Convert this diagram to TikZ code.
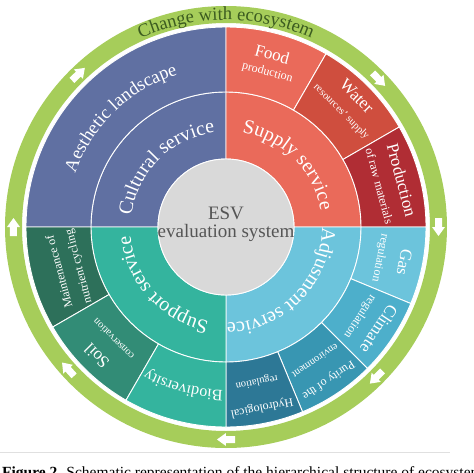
\documentclass[tikz,border=0pt]{standalone}
\usepackage{fontspec}
\setmainfont{Liberation Serif}
\usepackage{tikz}
\usetikzlibrary{
  decorations.text,
}
\definecolor{cultblue}{RGB}{96,112,162}
\definecolor{supplyred}{RGB}{234,106,90}
\definecolor{waterred}{RGB}{207,78,62}
\definecolor{prodred}{RGB}{176,45,52}
\definecolor{adjblue}{RGB}{108,196,220}
\definecolor{climblue}{RGB}{77,175,203}
\definecolor{purblue}{RGB}{56,150,178}
\definecolor{hydroblue}{RGB}{45,120,150}
\definecolor{suppteal}{RGB}{52,180,158}
\definecolor{soilteal}{RGB}{50,140,118}
\definecolor{maintgreen}{RGB}{45,112,90}
\definecolor{coregrey}{RGB}{217,217,217}
\definecolor{coretext}{RGB}{85,85,85}
\definecolor{ringgreen}{RGB}{166,205,90}
\definecolor{ringtext}{RGB}{60,92,32}
\newcommand{\fsmain}{\fontsize{20}{20}\selectfont}
\newcommand{\fscore}{\fontsize{19}{19}\selectfont}
\newcommand{\fsaes}{\fontsize{18.5}{18.5}\selectfont}
\newcommand{\fsbio}{\fontsize{16}{16}\selectfont}
\newcommand{\ringpiece}[5]{\filldraw[piece,fill=#1] (#4:#2) arc[start angle=#4,end angle=#5,radius=#2] -- (#5:#3) arc[start angle=#5,end angle=#4,radius=#3] -- cycle;}
\newcommand{\arclabel}[6]{\path[decorate,decoration={text along path,text align=center,text color=#5,text={|#4|#6}}] (#2:#1) arc[start angle=#2,end angle=#3,radius=#1];}
\newcommand{\ringarrow}[1]{\begin{scope}[shift={(#1:212.5)},rotate=#1-90]
    \fill[white] (-9,-3.5) -- (0,-3.5) -- (0,-6.5) -- (9,0) -- (0,6.5) -- (0,3.5) -- (-9,3.5) -- cycle;
  \end{scope}}
\tikzset{
  piece/.style={draw=white,line width=0.9pt},
  tag/.style={text=white,inner sep=0pt,font=\fontsize{12}{12}\selectfont},
  bigtag/.style={tag,font=\fontsize{17}{17}\selectfont},
  smalltag/.style={tag,font=\fontsize{10.5}{10.5}\selectfont},
}

\begin{document}
\begin{tikzpicture}[x=1pt,y=1pt]
	\useasboundingbox (-226,-245) rectangle (248,227);

	\fill[ringgreen,even odd rule] (0,0) circle (221) (0,0) circle (204);
	\foreach \a in {180,134,44,0,-45,-90,-138} {\ringarrow{\a}}
	\arclabel{207}{150}{30}{\fontsize{18.5}{18.5}\selectfont}{ringtext}{Change with ecosystem}

	\ringpiece{cultblue}{68}{135}{90}{180}
	\ringpiece{supplyred}{68}{135}{0}{90}
	\ringpiece{adjblue}{68}{135}{-90}{0}
	\ringpiece{suppteal}{68}{135}{-180}{-90}

	\ringpiece{cultblue}{135}{200}{90}{180}
	\ringpiece{supplyred}{135}{200}{60}{90}
	\ringpiece{waterred}{135}{200}{30}{60}
	\ringpiece{prodred}{135}{200}{0}{30}
	\ringpiece{adjblue}{135}{200}{-22.5}{0}
	\ringpiece{climblue}{135}{200}{-45}{-22.5}
	\ringpiece{purblue}{135}{200}{-67.5}{-45}
	\ringpiece{hydroblue}{135}{200}{-90}{-67.5}
	\ringpiece{maintgreen}{135}{200}{180}{210}
	\ringpiece{soilteal}{135}{200}{210}{240}
	\ringpiece{suppteal}{135}{200}{240}{270}

	\filldraw[piece,fill=coregrey] (0,0) circle (68);
	\node[text=coretext,font=\fscore,inner sep=0pt] (esv) at (0,14) {ESV};
	\node[text=coretext,font=\fscore,inner sep=0pt] (evalsys) at (0,-6) {evaluation system};

	\arclabel{95}{200}{70}{\fsmain}{white}{Cultural service}
	\arclabel{96}{110}{-20}{\fsmain}{white}{Supply service}
	\arclabel{96}{20}{-110}{\fsmain}{white}{Adjusment service}
	\arclabel{96}{-70}{-205}{\fsmain}{white}{Support service}
	\arclabel{160}{200}{68}{\fsaes}{white}{Aesthetic landscape}
	\arclabel{163}{-60}{-150}{\fsbio}{white}{Biodiversity}

	\node[bigtag,rotate=-15] (food) at (75:179) {Food};
	\node[tag,rotate=-15] (foodsub) at (75:160) {production};
	\node[bigtag,rotate=-45] (water) at (45:185) {Water};
	\node[smalltag,rotate=-45] (watersub) at (45:163) {resources' supply};
	\node[bigtag,rotate=-75] (prod) at (15:182) {Production};
	\node[tag,rotate=-75] (prodsub) at (15:159) {of raw materials};

	\node[bigtag,rotate=-101.25] (gas) at (-11.25:182) {Gas};
	\node[tag,rotate=-101.25] (gassub) at (-11.25:157) {regulation};
	\node[bigtag,rotate=-123.75] (climate) at (-33.75:184) {Climate};
	\node[tag,rotate=-123.75] (climatesub) at (-33.75:161) {regulation};
	\node[tag,rotate=-146.25] (purity) at (-56.25:184) {Purity of the};
	\node[smalltag,rotate=-146.25] (puritysub) at (-56.25:161) {environment};
	\node[tag,rotate=-168.75] (hydro) at (-78.75:184) {Hydrological};
	\node[smalltag,rotate=-168.75] (hydrosub) at (-78.75:158) {regulation};

	\node[tag,rotate=105] (maint) at (195:173) {Maintenance of};
	\node[tag,rotate=105] (maintsub) at (195:152) {nutrient cycling};
	\node[bigtag,rotate=135] (soil) at (-135:183) {Soil};
	\node[smalltag,rotate=135] (soilsub) at (-135:159) {conservation};

	\draw[black!12,line width=0.6pt] (-226,-225) -- (224,-225);
	\node[anchor=base west,inner sep=0pt,font=\fontsize{15.5}{15.5}\selectfont] (caption) at (-224,-250) {\textbf{Figure 2.} Schematic representation of the hierarchical structure of ecosystem};
\end{tikzpicture}
\end{document}
